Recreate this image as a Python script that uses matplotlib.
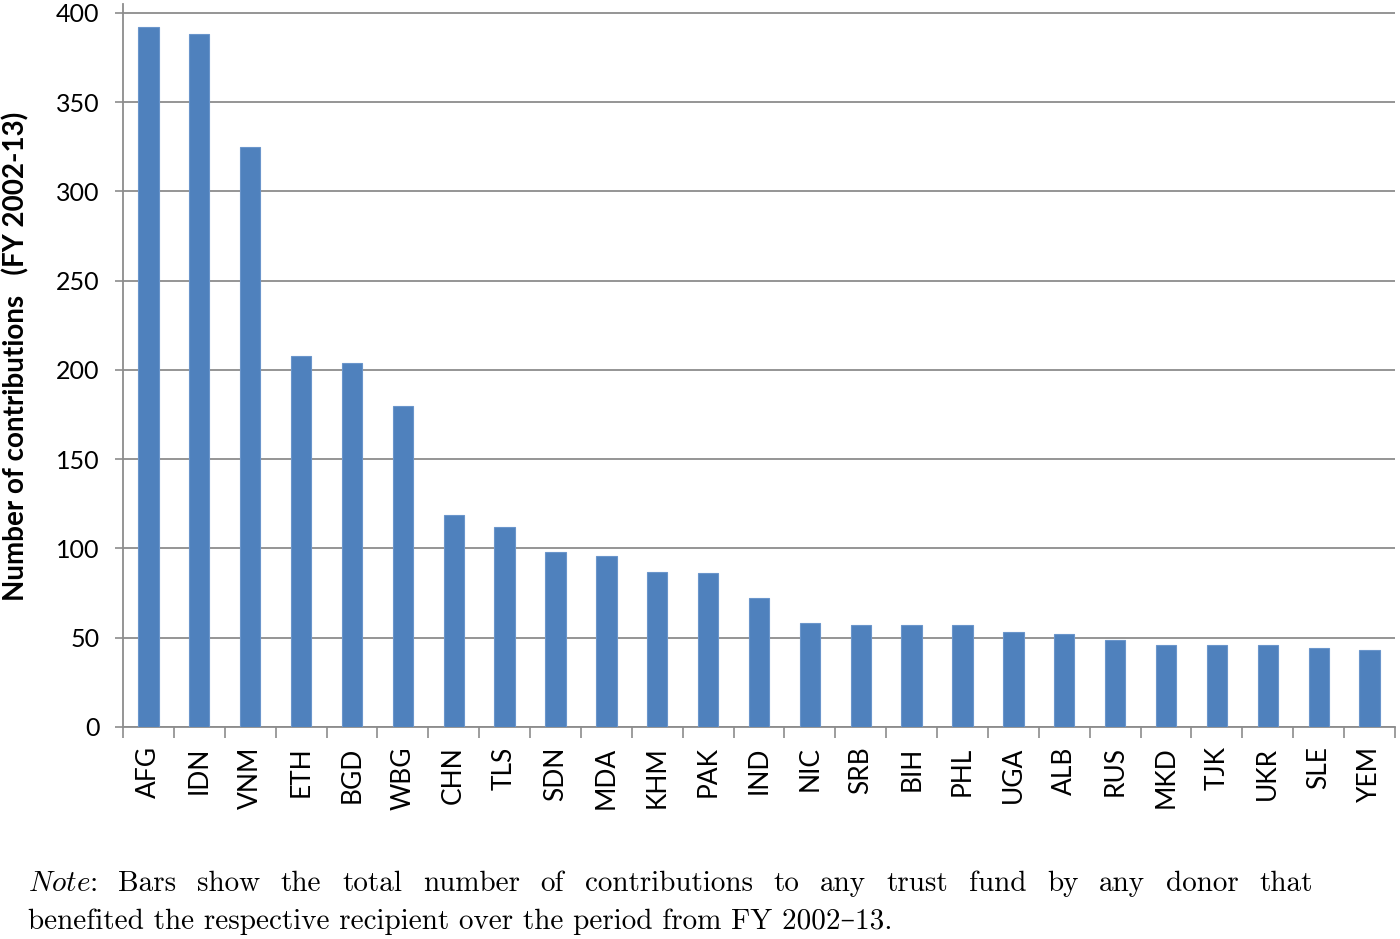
import matplotlib
matplotlib.use("Agg")
import matplotlib.pyplot as plt
from matplotlib.ticker import MultipleLocator, FixedLocator

# recipients and number of contributions (FY 2002-13)
recipients = ["AFG", "IDN", "VNM", "ETH", "BGD", "WBG", "CHN", "TLS", "SDN", "MDA",
              "KHM", "PAK", "IND", "NIC", "SRB", "BIH", "PHL", "UGA", "ALB", "RUS",
              "MKD", "TJK", "UKR", "SLE", "YEM"]
contributions = [392, 388, 325, 208, 204, 180, 119, 112, 98, 96,
                 87, 86, 72, 58, 57, 57, 57, 53, 52, 49,
                 46, 46, 46, 44, 43]
y_ticks = [0, 50, 100, 150, 200, 250, 300, 350, 400]

note_lead = r"$\mathit{Note}$:"
note_line1 = "Bars show the total number of contributions to any trust fund by any donor that"
note_line2 = "benefited the respective recipient over the period from FY 2002\u201313."

plt.rcParams['font.family'] = ['Lato', 'DejaVu Sans']
plt.rcParams['mathtext.fontset'] = 'cm'

W, H = 1400, 939
fig = plt.figure(figsize=(W / 100, H / 100), dpi=100)
ax = fig.add_axes([123 / W, 1 - 727 / H, (1395 - 123) / W, (727 - 4) / H])

x = list(range(len(recipients)))
ax.bar(x, contributions, width=0.4, color="#4F81BD", edgecolor="#6A95CB",
       linewidth=0.8, zorder=3)

ax.set_xlim(-0.5, len(recipients) - 0.5)
ax.set_ylim(0, 405)
ax.yaxis.set_major_locator(FixedLocator(y_ticks))
ax.grid(axis="y", color="#8C8C8C", linewidth=1.3, zorder=0)

ax.set_xticks(x)
ax.set_xticklabels(recipients, rotation=90, fontsize=19)
ax.xaxis.set_minor_locator(MultipleLocator(1, offset=0.5))
ax.tick_params(axis="x", which="major", length=0, pad=14)
ax.tick_params(axis="x", which="minor", length=8, width=1.2, color="#8C8C8C")
ax.tick_params(axis="y", length=6, width=1.2, color="#8C8C8C", labelsize=18, pad=11)

for s in ["top", "right"]:
    ax.spines[s].set_visible(False)
for s in ["left", "bottom"]:
    ax.spines[s].set_color("#8C8C8C")
    ax.spines[s].set_linewidth(1.3)

fig.text(16 / W, 1 - 356 / H, "Number of contributions   (FY 2002-13)",
         rotation=90, ha="center", va="center", fontsize=20, fontweight="bold")

# note below the chart, first line justified like the LaTeX original
note_size = 21
serif = ["cmr10", "DejaVu Serif"]
left_px, right_px = 28, 1313
base1, base2 = 891, 929

renderer = fig.canvas.get_renderer()
words = [note_lead] + note_line1.split()
texts = []
for w in words:
    t = fig.text(0, 1 - base1 / H, w, family=serif, fontsize=note_size,
                 ha="left", va="baseline")
    texts.append(t)
widths = [t.get_window_extent(renderer).width for t in texts]
gap = (right_px - left_px - sum(widths)) / (len(words) - 1)
pos = left_px
for t, wd in zip(texts, widths):
    t.set_x(pos / W)
    pos += wd + gap

fig.text(left_px / W, 1 - base2 / H, note_line2, family=serif, fontsize=note_size,
         ha="left", va="baseline")

fig.savefig("out.png", dpi=100)
